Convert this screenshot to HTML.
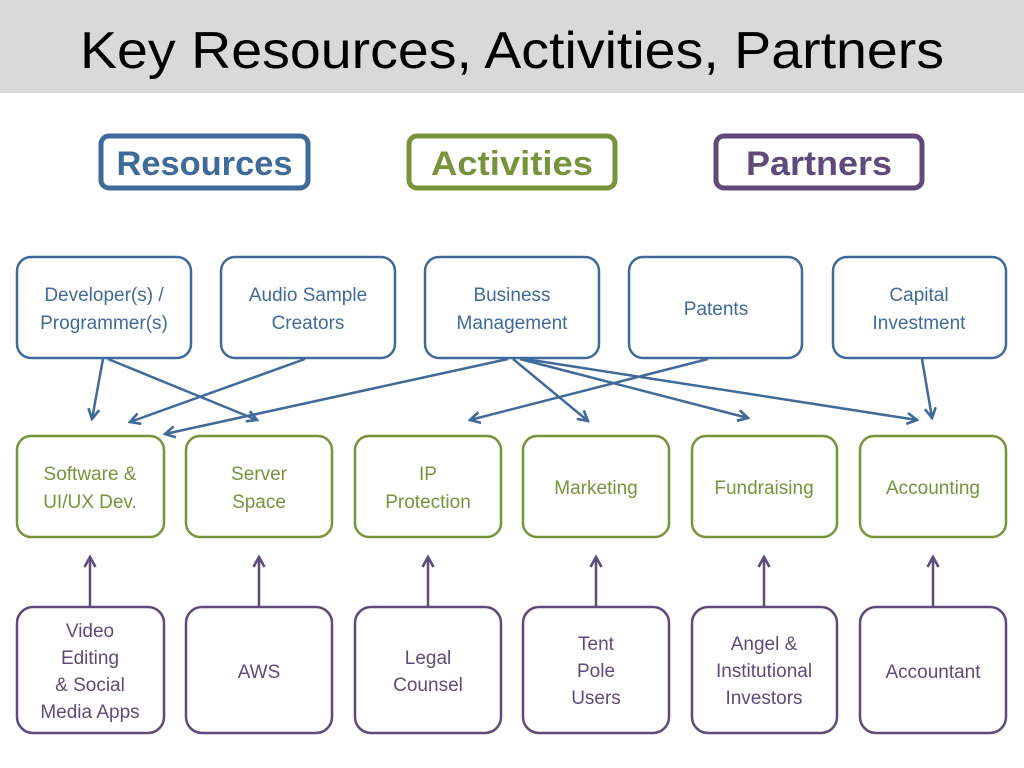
<!DOCTYPE html>
<html><head><meta charset="utf-8"><style>
html,body{margin:0;padding:0;background:#fff}
svg{display:block}
text{font-family:"Liberation Sans",sans-serif}
</style></head><body>
<svg width="1024" height="768" viewBox="0 0 1024 768" xmlns="http://www.w3.org/2000/svg">
<defs>
<marker id="ab" viewBox="0 0 14 14" refX="12" refY="7" markerWidth="14" markerHeight="14" orient="auto" markerUnits="userSpaceOnUse"><path d="M2,1.5 L12,7 L2,12.5" fill="none" stroke="#3f6a99" stroke-width="2.6"/></marker>
<marker id="ap" viewBox="0 0 14 14" refX="12" refY="7" markerWidth="14" markerHeight="14" orient="auto" markerUnits="userSpaceOnUse"><path d="M2,1.5 L12,7 L2,12.5" fill="none" stroke="#604a7b" stroke-width="2.6"/></marker>
</defs>
<rect x="0" y="0" width="1024" height="93" fill="#d9d9d9"/>
<text x="512" y="68" font-size="52" text-anchor="middle" textLength="864" lengthAdjust="spacingAndGlyphs" fill="#000">Key Resources, Activities, Partners</text>

<g stroke-width="5" fill="#fff">
<rect x="101" y="136" width="207" height="52" rx="8" stroke="#3f6a99"/>
<rect x="409" y="136" width="206" height="52" rx="8" stroke="#77933c"/>
<rect x="716" y="136" width="206" height="52" rx="8" stroke="#604a7b"/>
</g>
<g font-size="34" font-weight="bold" text-anchor="middle">
<text x="204.5" y="175" fill="#3f6a99" textLength="176" lengthAdjust="spacingAndGlyphs">Resources</text>
<text x="512" y="175" fill="#77933c" textLength="162" lengthAdjust="spacingAndGlyphs">Activities</text>
<text x="819" y="175" fill="#604a7b" textLength="146" lengthAdjust="spacingAndGlyphs">Partners</text>
</g>

<g stroke="#3f6a99" stroke-width="2.5" fill="#fff">
<rect x="17" y="257" width="174" height="101" rx="14"/>
<rect x="221" y="257" width="174" height="101" rx="14"/>
<rect x="425" y="257" width="174" height="101" rx="14"/>
<rect x="629" y="257" width="173" height="101" rx="14"/>
<rect x="833" y="257" width="173" height="101" rx="14"/>
</g>
<g font-size="19" fill="#3f6a99" text-anchor="middle">
<text x="104" y="301">Developer(s) /</text><text x="104" y="329">Programmer(s)</text>
<text x="308" y="301">Audio Sample</text><text x="308" y="329">Creators</text>
<text x="512" y="301">Business</text><text x="512" y="329">Management</text>
<text x="716" y="315">Patents</text>
<text x="919" y="301">Capital</text><text x="919" y="329">Investment</text>
</g>

<g stroke="#3f6a99" stroke-width="2.5" fill="none" marker-end="url(#ab)">
<line x1="103" y1="359" x2="92" y2="419"/>
<line x1="108" y1="359" x2="257" y2="420"/>
<line x1="305" y1="359" x2="130" y2="422"/>
<line x1="508" y1="359" x2="165" y2="434"/>
<line x1="708" y1="359" x2="470" y2="420"/>
<line x1="513" y1="359" x2="588" y2="421"/>
<line x1="520" y1="359" x2="748" y2="418"/>
<line x1="525" y1="359" x2="917" y2="420"/>
<line x1="922" y1="359" x2="932" y2="418"/>
</g>

<g stroke="#77933c" stroke-width="2.5" fill="#fff">
<rect x="17" y="436" width="147" height="101" rx="14"/>
<rect x="186" y="436" width="146" height="101" rx="14"/>
<rect x="355" y="436" width="146" height="101" rx="14"/>
<rect x="523" y="436" width="146" height="101" rx="14"/>
<rect x="692" y="436" width="145" height="101" rx="14"/>
<rect x="860" y="436" width="146" height="101" rx="14"/>
</g>
<g font-size="19" fill="#77933c" text-anchor="middle">
<text x="90" y="480">Software &amp;</text><text x="90" y="508">UI/UX Dev.</text>
<text x="259" y="480">Server</text><text x="259" y="508">Space</text>
<text x="428" y="480">IP</text><text x="428" y="508">Protection</text>
<text x="596" y="494">Marketing</text>
<text x="764" y="494">Fundraising</text>
<text x="933" y="494">Accounting</text>
</g>

<g stroke="#604a7b" stroke-width="2.5" fill="none" marker-end="url(#ap)">
<line x1="90" y1="606" x2="90" y2="557"/>
<line x1="259" y1="606" x2="259" y2="557"/>
<line x1="428" y1="606" x2="428" y2="557"/>
<line x1="596" y1="606" x2="596" y2="557"/>
<line x1="764" y1="606" x2="764" y2="557"/>
<line x1="933" y1="606" x2="933" y2="557"/>
</g>
<g stroke="#604a7b" stroke-width="2.5" fill="#fff">
<rect x="17" y="607" width="147" height="126" rx="16"/>
<rect x="186" y="607" width="146" height="126" rx="16"/>
<rect x="355" y="607" width="146" height="126" rx="16"/>
<rect x="523" y="607" width="146" height="126" rx="16"/>
<rect x="692" y="607" width="145" height="126" rx="16"/>
<rect x="860" y="607" width="146" height="126" rx="16"/>
</g>
<g font-size="19" fill="#604a7b" text-anchor="middle">
<text x="90" y="637">Video</text><text x="90" y="664">Editing</text><text x="90" y="691">&amp; Social</text><text x="90" y="718">Media Apps</text>
<text x="259" y="678">AWS</text>
<text x="428" y="664">Legal</text><text x="428" y="691">Counsel</text>
<text x="596" y="650">Tent</text><text x="596" y="677">Pole</text><text x="596" y="704">Users</text>
<text x="764" y="650">Angel &amp;</text><text x="764" y="677">Institutional</text><text x="764" y="704">Investors</text>
<text x="933" y="678">Accountant</text>
</g>
</svg>
</body></html>
